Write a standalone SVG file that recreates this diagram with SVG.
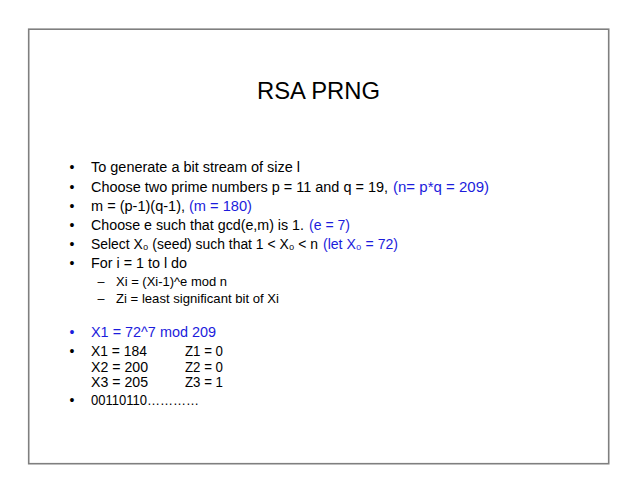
<svg xmlns="http://www.w3.org/2000/svg" width="638" height="493" viewBox="0 0 638 493">
<style>
text{font-family:"Liberation Sans",Arial,sans-serif;fill:#000}
.t{font-size:24.5px}
.b{font-size:14px}
.s{font-size:12.6px}
.blue{fill:#1c1cdc}
</style>
<rect width="638" height="493" fill="#fff"/>
<rect id="frame" x="28.7" y="29.2" width="580" height="434.5" fill="none" stroke="#7f7f7f" stroke-width="1.6"/>
<g id="title"><text class="t" x="257" y="99" textLength="123" lengthAdjust="spacingAndGlyphs">RSA PRNG</text></g>
<g id="bullets">
<text class="b" x="72" y="172" text-anchor="middle">•</text>
<text class="b" x="91" y="172" textLength="209" lengthAdjust="spacingAndGlyphs">To generate a bit stream of size l</text>
<text class="b" x="72" y="192" text-anchor="middle">•</text>
<text class="b" x="91" y="192" textLength="297" lengthAdjust="spacingAndGlyphs">Choose two prime numbers p = 11 and q = 19,</text>
<text class="b blue" x="393" y="192" textLength="96" lengthAdjust="spacingAndGlyphs">(n= p*q = 209)</text>
<text class="b" x="72" y="211" text-anchor="middle">•</text>
<text class="b" x="91" y="211" textLength="94" lengthAdjust="spacingAndGlyphs">m = (p-1)(q-1),</text>
<text class="b blue" x="189" y="211" textLength="63" lengthAdjust="spacingAndGlyphs">(m = 180)</text>
<text class="b" x="72" y="230" text-anchor="middle">•</text>
<text class="b" x="91" y="230" textLength="213" lengthAdjust="spacingAndGlyphs">Choose e such that gcd(e,m) is 1.</text>
<text class="b blue" x="309" y="230" textLength="41" lengthAdjust="spacingAndGlyphs">(e = 7)</text>
<text class="b" x="72" y="249" text-anchor="middle">•</text>
<text class="b" x="91" y="249" textLength="227" lengthAdjust="spacingAndGlyphs">Select X₀ (seed) such that 1 &lt; X₀ &lt; n</text>
<text class="b blue" x="323" y="249" textLength="75" lengthAdjust="spacingAndGlyphs">(let X₀ = 72)</text>
<text class="b" x="72" y="268" text-anchor="middle">•</text>
<text class="b" x="91" y="268" textLength="96" lengthAdjust="spacingAndGlyphs">For i = 1 to l do</text>
<text class="s" x="101" y="286" text-anchor="middle">–</text>
<text class="s" x="116" y="286" textLength="111" lengthAdjust="spacingAndGlyphs">Xi = (Xi-1)^e mod n</text>
<text class="s" x="101" y="302.7" text-anchor="middle">–</text>
<text class="s" x="116" y="302.7" textLength="163" lengthAdjust="spacingAndGlyphs">Zi = least significant bit of Xi</text>
<text class="b blue" x="72" y="336.7" text-anchor="middle">•</text>
<text class="b blue" x="91" y="336.7" textLength="125" lengthAdjust="spacingAndGlyphs">X1 = 72^7 mod 209</text>
<text class="b" x="72" y="355.7" text-anchor="middle">•</text>
<text class="b" x="91" y="355.7" textLength="56" lengthAdjust="spacingAndGlyphs">X1 = 184</text>
<text class="b" x="185" y="355.7" textLength="38" lengthAdjust="spacingAndGlyphs">Z1 = 0</text>
<text class="b" x="91" y="371.7" textLength="57" lengthAdjust="spacingAndGlyphs">X2 = 200</text>
<text class="b" x="185" y="371.7" textLength="38" lengthAdjust="spacingAndGlyphs">Z2 = 0</text>
<text class="b" x="91" y="386.7" textLength="57" lengthAdjust="spacingAndGlyphs">X3 = 205</text>
<text class="b" x="185" y="386.7" textLength="38" lengthAdjust="spacingAndGlyphs">Z3 = 1</text>
<text class="b" x="72" y="405" text-anchor="middle">•</text>
<text class="b" x="91" y="405" textLength="108" lengthAdjust="spacingAndGlyphs">00110110…………</text>
</g>
</svg>
